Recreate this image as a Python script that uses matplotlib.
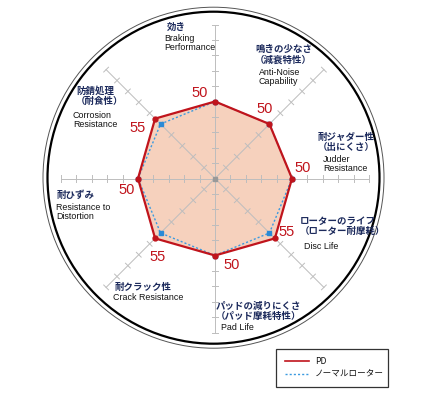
import numpy as np
import matplotlib
matplotlib.use("Agg")
from matplotlib import pyplot as plt
from matplotlib.patches import Circle, Rectangle

# data
jp_labels = ["効き", "鳴きの少なさ\n（減衰特性）", "耐ジャダー性\n（出にくさ）",
             "ローターのライフ\n（ローター耐摩耗）", "パッドの減りにくさ\n（パッド摩耗特性）",
             "耐クラック性", "耐ひずみ", "防錆処理\n（耐食性）"]
en_labels = ["Braking\nPerformance", "Anti-Noise\nCapability", "Judder\nResistance",
             "Disc Life", "Pad Life", "Crack Resistance", "Resistance to\nDistortion",
             "Corrosion\nResistance"]
pd_values = [50, 50, 50, 55, 50, 55, 50, 55]
normal_values = [50, 50, 50, 50, 50, 50, 50, 50]
series_names = ["PD", "ノーマルローター"]
r_max = 100

# layout (pixels of the 424x401 picture)
W, H = 424, 401
cx, cy, scale = 215, 178.5, 1.54
jp_pos = [(167, 22), (255, 44), (318, 132), (300, 216), (216, 301), (115, 282), (57, 190), (76, 86)]
en_pos = [(164, 34), (259, 68), (323, 155), (304, 242), (221, 323), (113, 293), (56, 203), (73, 111)]
val_pos = [(200, 93), (265, 109), (303, 168), (287, 232), (232, 265), (158, 257), (127, 190), (138, 128)]

def px(x, y):
    return (x - cx) / scale, (cy - y) / scale

angles = np.deg2rad(90 - 45 * np.arange(8))

fig = plt.figure(figsize=(W / 100, H / 100), dpi=100)
ax = fig.add_axes([0, 0, 1, 1])
ax.set_xlim(px(0, 0)[0], px(W, 0)[0])
ax.set_ylim(px(0, H)[1], px(0, 0)[1])
ax.axis("off")

# outer double ring
ccx, ccy = px(213.5, 177.7)
ax.add_patch(Circle((ccx, ccy), 166 / scale, fill=False, ec="black", lw=1.6, zorder=1))
ax.add_patch(Circle((ccx, ccy), 170.5 / scale, fill=False, ec="#555555", lw=0.7, zorder=1))

# spokes with tick marks
grid_col = "#bdbdbd"
for a in angles:
    ax.plot([0, r_max * np.cos(a)], [0, r_max * np.sin(a)], color=grid_col, lw=0.7, zorder=2)
    nx, ny = -np.sin(a), np.cos(a)
    for t in range(10, r_max + 1, 10):
        x0, y0 = t * np.cos(a), t * np.sin(a)
        ax.plot([x0 - 2.2 * nx, x0 + 2.2 * nx], [y0 - 2.2 * ny, y0 + 2.2 * ny],
                color=grid_col, lw=0.7, zorder=2)
ax.plot(0, 0, "s", color="#999999", ms=3, zorder=3)

# series
pd_x = np.array(pd_values) * np.cos(angles)
pd_y = np.array(pd_values) * np.sin(angles)
nm_x = np.array(normal_values) * np.cos(angles)
nm_y = np.array(normal_values) * np.sin(angles)
ax.fill(pd_x, pd_y, color="#f5c9b2", alpha=0.85, zorder=1.5, lw=0)
ax.plot(np.append(nm_x, nm_x[0]), np.append(nm_y, nm_y[0]), ls=(0, (1.5, 1.5)),
        color="#3b9ae0", lw=1.0, zorder=4)
ax.plot(nm_x, nm_y, "s", color="#2a8ad6", ms=3, lw=0, zorder=4)
ax.plot(np.append(pd_x, pd_x[0]), np.append(pd_y, pd_y[0]), color="#c0141c", lw=1.6, zorder=5)
ax.plot(pd_x, pd_y, "o", color="#c0141c", ms=3.5, lw=0, zorder=5)

jp_font = ["Noto Sans CJK JP", "DejaVu Sans"]
for i in range(8):
    x, y = px(*jp_pos[i])
    ax.text(x, y, jp_labels[i], family=jp_font, fontsize=6.8, color="#1c2a5c",
            ha="left", va="top", linespacing=1.05, fontweight="semibold", zorder=6)
    x, y = px(*en_pos[i])
    ax.text(x, y, en_labels[i], family="Liberation Sans", fontsize=6.4, color="#111111",
            ha="left", va="top", linespacing=1.0, zorder=6)
    x, y = px(*val_pos[i])
    ax.text(x, y, str(pd_values[i]), family="Liberation Sans", fontsize=10.5,
            color="#c0141c", ha="center", va="center", zorder=6)

# legend
lx0, ly0 = px(276, 387)
lx1, ly1 = px(388, 348.5)
ax.add_patch(Rectangle((lx0, ly0), lx1 - lx0, ly1 - ly0, fill=True, fc="white",
                       ec="#333333", lw=0.9, zorder=6))
for k, (name, yy) in enumerate(zip(series_names, [361, 373.5])):
    a0 = px(285, yy)
    a1 = px(309, yy)
    if k == 0:
        ax.plot([a0[0], a1[0]], [a0[1], a1[1]], color="#c0141c", lw=1.2, zorder=7)
    else:
        ax.plot([a0[0], a1[0]], [a0[1], a1[1]], color="#3b9ae0", lw=1.0,
                ls=(0, (1.5, 1.5)), zorder=7)
    t = px(315, yy)
    ax.text(t[0], t[1], name, family=jp_font, fontsize=6.2, color="#111111",
            ha="left", va="center", zorder=7)

fig.savefig("out.png", dpi=100)
